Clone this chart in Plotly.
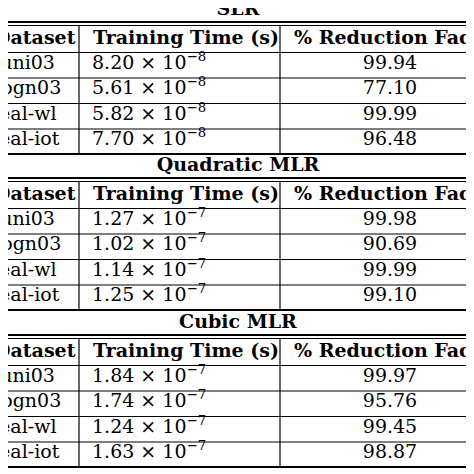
import plotly.graph_objects as go

sections = ["SLR", "Quadratic MLR", "Cubic MLR"]
datasets = ["puni03", "plogn03", "real-wl", "real-iot"]
headers = ["Dataset", "Training Time (s)", "% Reduction Factor"]
time_mant = [["8.20", "5.61", "5.82", "7.70"],
             ["1.27", "1.02", "1.14", "1.25"],
             ["1.84", "1.74", "1.24", "1.63"]]
time_exp = [[-8, -8, -8, -8], [-7, -7, -7, -7], [-7, -7, -7, -7]]
reduction = [["99.94", "77.10", "99.99", "96.48"],
             ["99.98", "90.69", "99.99", "99.10"],
             ["99.97", "95.76", "99.45", "98.87"]]

font = "DejaVu Serif"
tops = [0, 156, 313]  # section offsets (px)
name_x = [-12, -17, -10, -10]

fig = go.Figure()
shapes = []
for s, title in enumerate(sections):
    t = tops[s]
    fig.add_trace(go.Scatter(x=[238], y=[t + 10], mode="text", text=[f"<b>{title}</b>"],
                             textfont=dict(family=font, size=19, color="black"), cliponaxis=True))
    fig.add_trace(go.Scatter(x=[-6, 93, 294], y=[t + 39] * 3, mode="text",
                             text=[f"<b>{h}</b>" for h in headers], textposition="middle right",
                             textfont=dict(family=font, size=19, color="black"), cliponaxis=True))
    ys = [t + 64 + 25.5 * i for i in range(4)]
    fig.add_trace(go.Scatter(x=name_x, y=ys, mode="text", text=datasets, textposition="middle right",
                             textfont=dict(family=font, size=19, color="black"), cliponaxis=True))
    fig.add_trace(go.Scatter(x=[92] * 4, y=ys, mode="text",
                             text=[f"{m} × 10<sup>−{-e}</sup>" for m, e in zip(time_mant[s], time_exp[s])],
                             textposition="middle right",
                             textfont=dict(family=font, size=19, color="black"), cliponaxis=True))
    fig.add_trace(go.Scatter(x=[390] * 4, y=ys, mode="text", text=reduction[s],
                             textfont=dict(family=font, size=19, color="black"), cliponaxis=True))
    # horizontal rules
    shapes.append(dict(type="line", x0=-5, x1=490, y0=t + 22, y1=t + 22, line=dict(width=2, color="black")))
    shapes.append(dict(type="line", x0=-5, x1=490, y0=t + 25.5, y1=t + 25.5, line=dict(width=1, color="black")))
    for yy in [t + 52.5, t + 78, t + 103.5, t + 129]:
        shapes.append(dict(type="line", x0=-5, x1=490, y0=yy, y1=yy, line=dict(width=1.2, color="black")))
    shapes.append(dict(type="line", x0=-5, x1=490, y0=t + 154, y1=t + 154, line=dict(width=2, color="black")))
    for xx in [79, 280]:
        shapes.append(dict(type="line", x0=xx, x1=xx, y0=t + 25.5, y1=t + 154, line=dict(width=1.2, color="black")))

fig.update_layout(width=474, height=474, margin=dict(l=0, r=0, t=0, b=0), showlegend=False,
                  plot_bgcolor="white", paper_bgcolor="white", shapes=shapes,
                  xaxis=dict(range=[8, 482], visible=False, fixedrange=True),
                  yaxis=dict(range=[482, 8], visible=False, fixedrange=True))
fig.write_html("out.html")
